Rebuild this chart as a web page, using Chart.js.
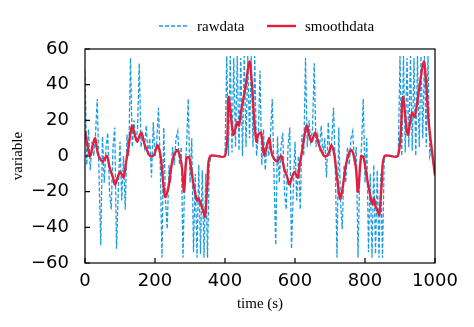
<!DOCTYPE html>
<html><head><meta charset="utf-8">
<script src="https://cdn.jsdelivr.net/npm/chart.js@4/dist/chart.umd.min.js"></script>
<style>html,body{margin:0;padding:0;background:#fff;}#wrap{width:474px;height:327px;}</style>
</head><body><div id="wrap"><canvas id="c" width="474" height="327"></canvas></div>
<script>
// ---- data ----
const rawStep = 5; // seconds between raw samples (t = 0,5,...,1000)
const rawValues = [
  48,-5,15,-8,8,0,12,32,-10,-50, 11,-15,5,13,-20,-30,5,16,-52,-20,
  8,-25,0,-30,12,0,55,5,20,8, 15,52,5,12,5,17,0,10,-12,19,
  0,8,27,-5,-57,16,-25,-41,-5,-15, 5,-5,10,14,-5,5,-57,-10,5,32,
  -15,10,-54,-10,-57,-5,-55,-8,-57,-10, -57,-5,0,0,0,0,0,0,0,0,
  0,56,0,56,2,55,5,56,3,55, 0,56,5,56,10,56,5,56,0,10,
  48,-5,15,-8,8,0,12,32,-10,-50, 11,-15,5,13,-20,-30,5,16,-52,-20,
  8,-25,0,-30,12,0,55,5,20,8, 15,52,5,12,5,17,0,10,-12,19,
  0,8,27,-5,-57,16,-25,-41,-5,-15, 5,-5,10,14,-5,5,-57,-10,5,32,
  -15,10,-54,-10,-57,-5,-55,-8,-57,-10, -57,0,0,0,0,0,0,0,0,0,
  56,0,56,2,55,5,56,3,55,0, 56,5,56,10,56,5,56,0,5,-5,
  -10
];
const smoothTimes = [
  0,8,15,22,29,34,39,50,58,63,71,80,86,95,101,110,117,124,134,142,149,155,161,171,186,197,207,216,222,229,238,245,252,264,276,283,290,298,310,320,325,333,338,343,350,358,400,410,424,435,440,446,458,470,477,484,490,495,
  503,512,520,527,531,536,548,556,561,569,578,584,593,599,608,614,620,633,640,647,653,658,669,683,694,704,713,720,729,736,743,750,761,773,780,789,796,809,821,826,830,836,841,848,856,894,908,922,934,942,955,968,975,982,990,1000
];
const smoothValues = [
  14,5,0,6,10,4,0,-3,-1,0,-7,-12,-16,-11,-9,-12,-4,4.5,17,12,8,11,13,6,0,0.5,6,0,-12,-23,-18,-8,-1,3.4,-5,-20,-1,-1,-16,-25,-24,-28,-31,-34,-15,0,0,33,12,19,17,25,38,53,40,19,8,12,
  13,0.5,6,10,4,0,-3,-1,0,-7,-12,-16,-11,-9,-12,-4,2.4,17,12,8,11,13,6,0,0.5,6,0,-12,-24,-18,-8,-1,3.4,-5,-20,0,-1,-16,-27,-24,-28,-31,-33,-15,0,0,33,12,24,22,38,53,40,19,5,-11
];
const xTickValues = [0,200,400,600,800,1000];
const yTickValues = [-60,-40,-20,0,20,40,60];
const seriesNames = ['rawdata','smoothdata'];

const rawPoints = rawValues.map((v,i)=>({x:i*rawStep,y:v}));
const smoothPoints = smoothValues.map((v,i)=>({x:smoothTimes[i],y:v}));
const fmt = v => (v<0 ? '\u2212'+Math.abs(v) : String(v));
const legendX = [159, 267];

const framePlugin = {
  id:'frame',
  afterDraw(chart){
    const ctx = chart.ctx, a = chart.chartArea;
    const xs = chart.scales.x, ys = chart.scales.y;
    ctx.save();
    ctx.strokeStyle = '#000'; ctx.lineWidth = 1.2;
    ctx.strokeRect(a.left, a.top, a.right-a.left, a.bottom-a.top);
    ctx.beginPath();
    xTickValues.forEach(v=>{const p=xs.getPixelForValue(v); ctx.moveTo(p,a.bottom); ctx.lineTo(p,a.bottom-5);});
    yTickValues.forEach(v=>{const p=ys.getPixelForValue(v); ctx.moveTo(a.left,p); ctx.lineTo(a.left+5,p);});
    ctx.stroke();
    // legend
    ctx.font = '15px "Liberation Serif", serif';
    ctx.textBaseline = 'middle';
    ctx.fillStyle = '#000';
    const y = 26;
    chart.data.datasets.forEach((ds,i)=>{
      const x = legendX[i];
      ctx.strokeStyle = ds.borderColor;
      ctx.lineWidth = ds.legendWidth;
      ctx.setLineDash(ds.borderDash || []);
      ctx.beginPath(); ctx.moveTo(x,y); ctx.lineTo(x+29,y); ctx.stroke();
      ctx.setLineDash([]);
      ctx.fillText(ds.label, x+38, y+1);
    });
    ctx.restore();
  }
};

new Chart(document.getElementById('c'), {
  type:'line',
  data:{datasets:[
    {label:seriesNames[0], data:rawPoints, order:2, borderColor:'#1c9de2', borderWidth:1.3, borderDash:[4,2], legendWidth:1.5, pointRadius:0, tension:0, fill:false},
    {label:seriesNames[1], data:smoothPoints, order:1, borderColor:'#e0203c', borderWidth:2.4, legendWidth:2.4, pointRadius:0, tension:0.3, fill:false}
  ]},
  options:{
    responsive:false, animation:false, devicePixelRatio:1,
    layout:{padding:{left:0,right:39,top:49,bottom:0}},
    plugins:{legend:{display:false}, tooltip:{enabled:false}},
    scales:{
      x:{type:'linear', min:0, max:1000,
        afterBuildTicks(s){ s.ticks = xTickValues.map(v=>({value:v})); },
        afterFit(s){ s.height = 64; },
        grid:{display:false}, border:{display:false},
        ticks:{padding:0, color:'#000', font:{family:'"DejaVu Sans"', size:18}, maxRotation:0, callback:v=>fmt(v)},
        title:{display:true, text:'time (s)', color:'#000', font:{family:'"Liberation Serif"', size:15}, padding:{top:0,bottom:14}}
      },
      y:{type:'linear', min:-60, max:60,
        afterBuildTicks(s){ s.ticks = yTickValues.map(v=>({value:v})); },
        afterFit(s){ s.width = 85; },
        grid:{display:false}, border:{display:false},
        ticks:{padding:8, color:'#000', font:{family:'"DejaVu Sans"', size:18}, callback:v=>fmt(v)},
        title:{display:true, text:'variable', color:'#000', font:{family:'"Liberation Serif"', size:15}, padding:{top:9,bottom:0}}
      }
    }
  },
  plugins:[framePlugin]
});
</script></body></html>
